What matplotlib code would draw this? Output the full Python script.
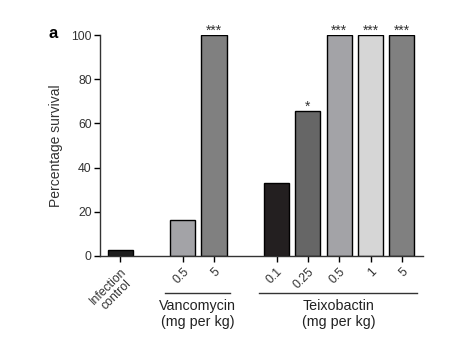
import matplotlib.pyplot as plt
import matplotlib.transforms as mtransforms

plt.rcParams['font.family'] = ['Liberation Sans', 'DejaVu Sans']

tick_labels = ["Infection\ncontrol", "0.5", "5", "0.1", "0.25", "0.5", "1", "5"]
survival = [2.5, 16.5, 100, 33, 65.5, 100, 100, 100]
stars = ["", "", "***", "", "*", "***", "***", "***"]
positions = [0, 2, 3, 5, 6, 7, 8, 9]
colors = ["#1e1e1e", "#a3a3a7", "#808080", "#231f20", "#666666", "#a3a3a7", "#d6d6d6", "#808080"]
groups = ["Vancomycin\n(mg per kg)", "Teixobactin\n(mg per kg)"]
group_span = [(2, 3), (5, 9)]

fig = plt.figure(figsize=(4.74, 3.55), dpi=100)
ax = fig.add_axes([0.211, 0.279, 0.681, 0.622])

ax.bar(positions, survival, width=0.8, color=colors, edgecolor="black", linewidth=1, zorder=2)

for x, h, s in zip(positions, survival, stars):
    if s:
        ax.text(x, h + 0.3, s, ha="center", va="baseline", fontsize=10, color="#333333", clip_on=False)

ax.set_xlim(-0.64, 9.67)
ax.set_ylim(0, 100)
ax.set_yticks([0, 20, 40, 60, 80, 100])
ax.set_xticks(positions)
ax.set_xticklabels(tick_labels, rotation=45, ha="right", va="top", rotation_mode="anchor",
                   fontsize=8.8, color="#333333", multialignment="center", linespacing=1.0)
ax.tick_params(axis="y", labelsize=8.8, labelcolor="#333333", direction="out", length=4, width=1, pad=2)
ax.tick_params(axis="x", direction="out", length=4, width=1, pad=3)
ax.set_ylabel("Percentage survival", fontsize=10, color="#333333", labelpad=6)

for side in ["top", "right"]:
    ax.spines[side].set_visible(False)
for side in ["left", "bottom"]:
    ax.spines[side].set_linewidth(1)
    ax.spines[side].set_color("#333333")

trans = mtransforms.blended_transform_factory(ax.transData, ax.transAxes)
for name, (a, b) in zip(groups, group_span):
    ax.plot([a - 0.55, b + 0.5], [-0.167, -0.167], color="#333333", lw=1,
            transform=trans, clip_on=False)
    ax.text((a - 0.55 + b + 0.5) / 2, -0.193, name, transform=trans, ha="center", va="top",
            fontsize=10.3, color="#222222", linespacing=1.2)

fig.text(0.102, 0.905, "a", fontsize=12, fontweight="bold", ha="left", va="center")

fig.savefig("out.png", dpi=100)
